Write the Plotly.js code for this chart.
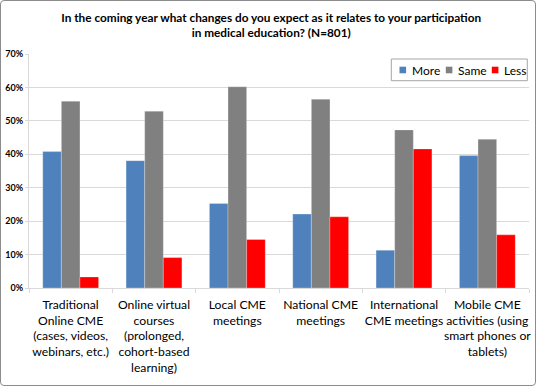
<!DOCTYPE html>
<html>
<head>
<meta charset="utf-8">
<script src="https://cdn.plot.ly/plotly-3.0.1.min.js"></script>
<style>
html,body{margin:0;padding:0;background:#fff;}
#wrap{position:relative;width:536px;height:386px;}
#chart{width:536px;height:386px;}
#frame{position:absolute;left:0;top:0;width:534px;height:384px;border:1px solid #8c8c8c;border-radius:4px;pointer-events:none;}
</style>
</head>
<body>
<div id="wrap"><div id="chart"></div><div id="frame"></div></div>
<script>
const categories = [
  "Traditional<br>Online CME<br>(cases, videos,<br>webinars, etc.)",
  "Online virtual<br>courses<br>(prolonged,<br>cohort-based<br>learning)",
  "Local CME<br>meetings",
  "National CME<br>meetings",
  "International<br>CME meetings",
  "Mobile CME<br>activities (using<br>smart phones or<br>tablets)"
];
const more = [0.408, 0.381, 0.253, 0.221, 0.113, 0.396];
const same = [0.559, 0.529, 0.602, 0.565, 0.473, 0.445];
const less = [0.033, 0.091, 0.145, 0.213, 0.416, 0.159];
const seriesNames = ["More", "Same", "Less"];
const yTicks = [0, 0.1, 0.2, 0.3, 0.4, 0.5, 0.6, 0.7];
const yTickText = ["0%", "10%", "20%", "30%", "40%", "50%", "60%", "70%"];
const titleText = "In the coming year what changes do you expect as it relates to your participation<br>in medical education? (N=801)";

const colors = ["#4f81bd", "#808080", "#ff0000"];
const vals = [more, same, less];
const data = vals.map((v, i) => ({
  type: "bar",
  name: seriesNames[i],
  x: categories,
  y: v,
  marker: {color: colors[i], line: {color: "rgba(255,255,255,0.5)", width: 0.5}},
  hoverinfo: "none",
  showlegend: false
}));

// plot area in pixels: x 29..529, y 54..288
const px = x => (x - 29) / 500;
const py = y => (288 - y) / 234;

// legend drawn as shapes + annotations
const legX = [399.5, 445.8, 491.8];
const shapes = [{
  type: "rect", xref: "paper", yref: "paper",
  x0: px(391.3), x1: px(527.3), y0: py(80.7), y1: py(59),
  line: {color: "#a6a6a6", width: 1}, fillcolor: "#fff", layer: "above"
}];
const annotations = [];
seriesNames.forEach((n, i) => {
  shapes.push({
    type: "rect", xref: "paper", yref: "paper",
    x0: px(legX[i]), x1: px(legX[i] + 6.6), y0: py(73.3), y1: py(66.7),
    line: {width: 0}, fillcolor: colors[i], layer: "above"
  });
  annotations.push({
    xref: "paper", yref: "paper", x: px(legX[i] + 10), y: py(70),
    xanchor: "left", yanchor: "middle", showarrow: false,
    text: n, font: {size: 12, color: "#000"}
  });
});

const layout = {
  width: 536, height: 386,
  margin: {l: 29, r: 7, t: 54, b: 98},
  paper_bgcolor: "#fff", plot_bgcolor: "#fff",
  font: {family: "Lato, 'Open Sans', sans-serif", size: 12, color: "#000"},
  title: {
    text: titleText,
    font: {family: "Lato, sans-serif", size: 11.8, color: "#000", weight: "bold"},
    x: 0.506, xref: "container", xanchor: "center",
    y: 1 - 21.5/386, yref: "container", yanchor: "middle"
  },
  barmode: "group",
  bargap: 0.33,
  bargroupgap: 0,
  showlegend: false,
  shapes: shapes,
  annotations: annotations,
  xaxis: {
    type: "category",
    showline: true, linecolor: "#d9d9d9", linewidth: 1,
    ticks: "outside", tickson: "boundaries", ticklen: 4, tickcolor: "#d9d9d9",
    tickfont: {size: 12.2, color: "#000"},
    ticklabelstandoff: 5,
    tickangle: 0,
    showgrid: false,
    automargin: false
  },
  yaxis: {
    range: [0, 0.7],
    tickvals: yTicks, ticktext: yTickText,
    tickfont: {size: 9, color: "#000", weight: "bold"},
    showline: true, linecolor: "#d9d9d9", linewidth: 1,
    ticks: "outside", ticklen: 3, tickcolor: "#d9d9d9",
    showgrid: true, gridcolor: "#d9d9d9", gridwidth: 1,
    zeroline: false,
    automargin: false
  }
};

Plotly.newPlot("chart", data, layout, {staticPlot: true, displayModeBar: false});
</script>
</body>
</html>
